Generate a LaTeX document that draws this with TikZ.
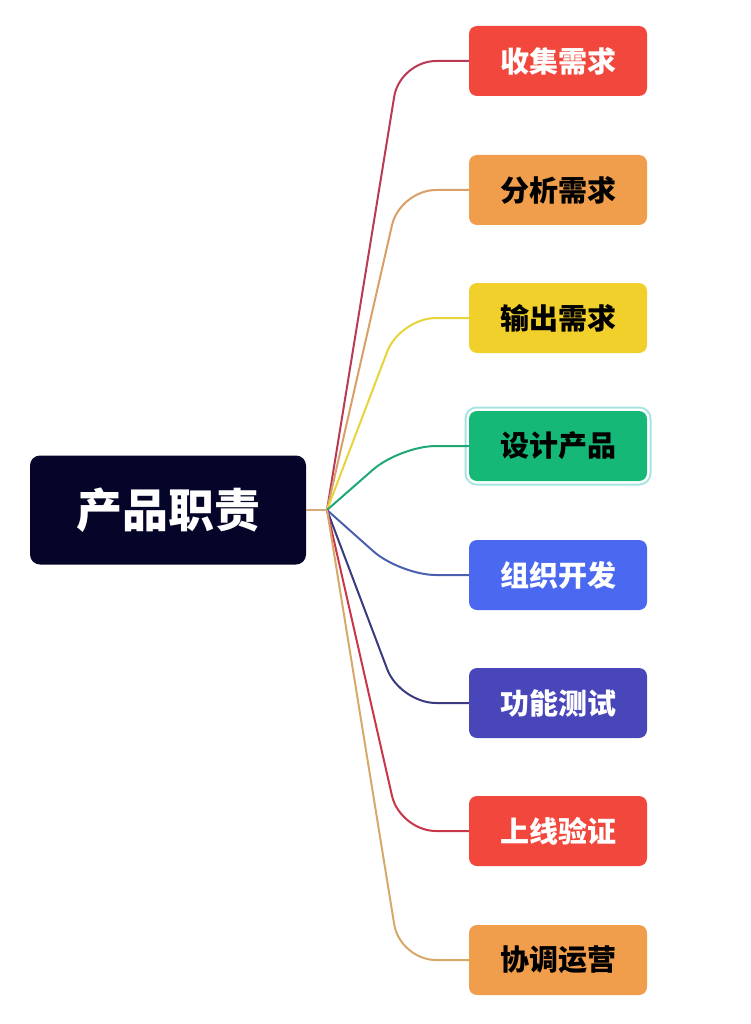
\documentclass[tikz,border=0pt]{standalone}
\usepackage{fontspec}
\newfontfamily\cjk{Noto Sans CJK SC}
\definecolor{rootbg}{HTML}{05052A}
\definecolor{redbg}{HTML}{F2473D}
\definecolor{orangebg}{HTML}{F09E4C}
\definecolor{yellowbg}{HTML}{F2D02C}
\definecolor{greenbg}{HTML}{16B877}
\definecolor{bluebg}{HTML}{4B68F0}
\definecolor{indigobg}{HTML}{4846B8}
\definecolor{selcyan}{HTML}{A6E4E2}
\definecolor{lred}{HTML}{B83A55}
\definecolor{lorange}{HTML}{D8A068}
\definecolor{lyellow}{HTML}{E6D43A}
\definecolor{lgreen}{HTML}{1FA874}
\definecolor{lblue}{HTML}{4A5FB0}
\definecolor{lindigo}{HTML}{3A3A80}
\definecolor{lred2}{HTML}{C8364A}
\definecolor{lorange2}{HTML}{D6A86A}
\definecolor{lstem}{HTML}{D8A878}
\begin{document}
\begin{tikzpicture}[x=1pt, y=-1pt,
    root/.style={fill=rootbg, text=white, rounded corners=10pt,
      minimum width=276pt, minimum height=109pt, inner sep=0pt,
      font=\cjk\bfseries\fontsize{46}{46}\selectfont},
    task/.style={rounded corners=8pt, minimum width=178pt,
      minimum height=70pt, inner sep=0pt,
      font=\cjk\bfseries\fontsize{29}{29}\selectfont},
    branch/.style={line width=2pt, rounded corners=36pt}]

    \useasboundingbox (0, 0) rectangle (751, 1024);

    \node[root] (r) at (168, 510) {产品职责};
    \coordinate (hub) at (327, 510);
    \coordinate (bend) at (400, 0);

    \node[task, fill=redbg, text=white] (a) at (558, 61) {收集需求};
    \node[task, fill=orangebg, text=black] (b) at (558, 190) {分析需求};
    \node[task, fill=yellowbg, text=black] (c) at (558, 318) {输出需求};
    \node[task, fill=greenbg, text=black,
      preaction={draw=selcyan, line width=9pt},
      preaction={draw=white, line width=5pt}] (d) at (558, 446) {设计产品};
    \node[task, fill=bluebg, text=white] (e) at (558, 575) {组织开发};
    \node[task, fill=indigobg, text=white] (f) at (558, 703) {功能测试};
    \node[task, fill=redbg, text=white] (g) at (558, 831) {上线验证};
    \node[task, fill=orangebg, text=black] (h) at (558, 960) {协调运营};

    \draw [line width=2pt, lstem] (r.east) -- (hub);
    \draw [branch, lred] (hub) -- (bend |- a) -- (a.west);
    \draw [branch, lorange] (hub) -- (bend |- b) -- (b.west);
    \draw [branch, lyellow] (hub) -- (bend |- c) -- (c.west);
    \draw [branch, lgreen] (hub) -- (bend |- d) -- (d.west);
    \draw [branch, lblue] (hub) -- (bend |- e) -- (e.west);
    \draw [branch, lindigo] (hub) -- (bend |- f) -- (f.west);
    \draw [branch, lred2] (hub) -- (bend |- g) -- (g.west);
    \draw [branch, lorange2] (hub) -- (bend |- h) -- (h.west);

  \end{tikzpicture}
\end{document}
